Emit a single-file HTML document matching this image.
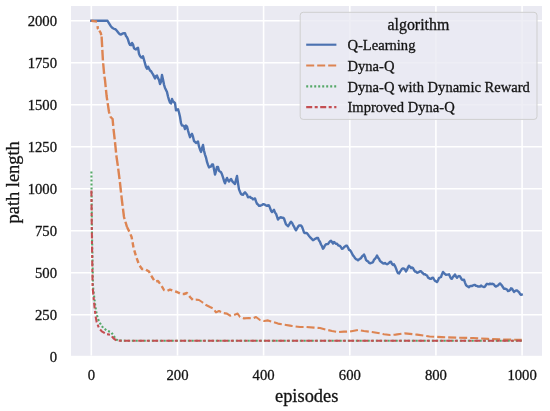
<!DOCTYPE html>
<html lang="en"><head><meta charset="utf-8"><title>path length vs episodes</title>
<style>
html,body{margin:0;padding:0;background:#ffffff;}
body{width:550px;height:411px;overflow:hidden;font-family:"Liberation Serif",serif;}
svg{display:block;}
</style></head><body>
<svg width="550" height="411" viewBox="0 0 550 411">
<rect x="0" y="0" width="550" height="411" fill="#ffffff"/>
<rect x="71.0" y="6.0" width="471.0" height="349.8" fill="#eaeaf2"/>
<defs><clipPath id="ax"><rect x="71.0" y="6.0" width="471.0" height="349.8"/></clipPath></defs>
<g clip-path="url(#ax)" stroke="#ffffff" stroke-width="1.6">
<line x1="91.3" y1="6.0" x2="91.3" y2="355.8"/>
<line x1="177.5" y1="6.0" x2="177.5" y2="355.8"/>
<line x1="263.6" y1="6.0" x2="263.6" y2="355.8"/>
<line x1="349.8" y1="6.0" x2="349.8" y2="355.8"/>
<line x1="435.9" y1="6.0" x2="435.9" y2="355.8"/>
<line x1="522.1" y1="6.0" x2="522.1" y2="355.8"/>
<line x1="71.0" y1="356.8" x2="542.0" y2="356.8"/>
<line x1="71.0" y1="314.8" x2="542.0" y2="314.8"/>
<line x1="71.0" y1="272.8" x2="542.0" y2="272.8"/>
<line x1="71.0" y1="230.8" x2="542.0" y2="230.8"/>
<line x1="71.0" y1="188.8" x2="542.0" y2="188.8"/>
<line x1="71.0" y1="146.8" x2="542.0" y2="146.8"/>
<line x1="71.0" y1="104.8" x2="542.0" y2="104.8"/>
<line x1="71.0" y1="62.8" x2="542.0" y2="62.8"/>
<line x1="71.0" y1="20.8" x2="542.0" y2="20.8"/>
</g>
<g clip-path="url(#ax)" fill="none" stroke-width="2.4" stroke-linejoin="round">
<polyline stroke="#4c72b0" stroke-linecap="square" points="91.3,20.8 107.5,20.8 110.0,24.8 111.0,26.5 112.0,27.5 113.0,28.3 114.0,28.8 115.0,29.1 116.0,29.8 117.0,31.0 118.0,32.3 119.0,33.6 120.0,34.3 121.0,34.6 122.0,33.9 123.0,33.4 124.0,33.2 125.0,33.2 126.0,36.1 127.0,37.3 128.0,39.6 129.0,42.9 130.0,44.9 131.0,45.2 132.0,42.9 133.0,44.4 134.0,48.2 135.0,48.9 136.0,49.5 137.0,48.4 138.0,47.8 139.0,53.7 140.0,56.1 141.0,57.3 142.0,57.7 143.0,56.2 144.0,59.8 145.0,63.4 146.0,66.9 147.0,68.8 148.0,66.7 149.0,68.5 150.0,70.6 151.0,71.1 152.0,72.9 153.0,74.4 154.0,76.4 155.0,78.4 156.0,76.1 157.0,75.6 158.0,78.2 159.0,79.9 160.0,84.0 161.0,81.7 162.0,74.9 163.0,79.4 164.0,84.6 165.0,88.0 166.0,89.9 167.0,92.0 168.0,96.5 169.0,99.9 170.0,102.6 171.0,103.4 172.0,99.0 173.0,101.5 174.0,102.1 175.0,103.1 176.0,110.4 177.0,109.8 178.0,109.2 179.0,112.5 180.0,116.7 181.0,123.1 182.0,125.6 183.0,125.6 184.0,126.0 185.0,129.0 186.0,125.6 187.0,126.6 188.0,130.5 189.0,134.0 190.0,137.2 191.0,135.0 192.0,133.8 193.0,136.7 194.0,141.0 195.0,141.9 196.0,142.9 197.0,142.2 198.0,141.4 199.0,146.4 200.0,149.5 201.0,151.9 202.0,148.2 203.0,145.0 204.0,150.8 205.0,154.6 206.0,157.6 207.0,161.9 208.0,164.9 209.0,167.4 210.0,166.8 211.0,166.6 212.0,164.4 213.0,164.4 214.0,169.2 215.0,174.6 216.0,171.1 217.0,166.9 218.0,167.0 219.0,170.7 220.0,171.4 221.0,172.2 222.0,174.3 223.0,177.3 224.0,180.7 225.0,183.3 226.0,180.1 227.0,177.9 228.0,180.2 229.0,181.6 230.0,180.1 231.0,178.9 232.0,180.8 233.0,182.2 234.0,183.1 235.0,184.0 236.0,179.8 237.0,176.0 238.0,183.2 239.0,189.4 240.0,191.8 241.0,194.0 242.0,194.6 243.0,194.7 244.0,193.3 245.0,192.3 246.0,193.5 247.0,194.7 248.0,197.2 249.0,197.1 250.0,196.8 251.0,197.9 252.0,198.1 253.0,199.4 254.0,199.0 255.0,198.4 256.0,201.4 257.0,203.8 258.0,204.5 259.0,205.9 260.0,205.8 261.0,205.4 262.0,205.0 263.0,204.3 264.0,204.3 265.0,204.8 266.0,205.5 267.0,205.9 268.0,205.3 269.0,205.4 270.0,207.9 271.0,210.7 272.0,212.1 273.0,210.8 274.0,209.8 275.0,212.5 276.0,213.7 277.0,216.7 278.0,219.5 279.0,218.2 280.0,217.6 281.0,217.2 282.0,217.8 283.0,217.7 284.0,218.5 285.0,221.5 286.0,224.3 287.0,225.2 288.0,226.3 289.0,224.8 290.0,223.1 291.0,221.8 292.0,222.8 293.0,224.8 294.0,226.6 295.0,228.8 296.0,230.3 297.0,228.5 298.0,226.8 299.0,225.4 300.0,225.5 301.0,225.4 302.0,226.8 303.0,229.4 304.0,232.5 305.0,233.1 306.0,232.9 307.0,233.2 308.0,234.5 309.0,235.9 310.0,237.1 311.0,238.1 312.0,239.1 313.0,240.2 314.0,239.7 315.0,238.8 316.0,238.5 317.0,237.9 318.0,238.0 319.0,240.6 320.0,241.8 321.0,244.5 322.0,246.2 323.0,248.7 324.0,247.4 325.0,245.3 326.0,244.3 327.0,244.1 328.0,244.0 329.0,242.6 330.0,241.4 331.0,240.8 332.0,242.1 333.0,243.5 334.0,241.9 335.0,242.9 336.0,243.7 337.0,243.8 338.0,245.1 339.0,245.7 340.0,246.0 341.0,247.3 342.0,248.8 343.0,248.4 344.0,247.2 345.0,246.4 346.0,245.7 347.0,245.8 348.0,247.5 349.0,249.8 350.0,250.2 351.0,251.5 352.0,253.5 353.0,255.4 354.0,256.5 355.0,258.2 356.0,259.1 357.0,259.5 358.0,260.3 359.0,259.4 360.0,258.7 361.0,258.1 362.0,256.5 363.0,255.6 364.0,254.5 365.0,256.7 366.0,259.9 367.0,260.9 368.0,261.3 369.0,262.7 370.0,263.3 371.0,263.0 372.0,262.6 373.0,262.1 374.0,259.7 375.0,258.9 376.0,257.3 377.0,255.6 378.0,257.6 379.0,258.7 380.0,260.9 381.0,261.8 382.0,262.5 383.0,263.4 384.0,263.6 385.0,262.9 386.0,263.8 387.0,264.3 388.0,263.7 389.0,262.9 390.0,262.0 391.0,261.8 392.0,263.9 393.0,265.0 394.0,264.3 395.0,266.0 396.0,268.4 397.0,271.2 398.0,273.1 399.0,273.5 400.0,271.9 401.0,270.4 402.0,268.8 403.0,268.4 404.0,268.7 405.0,269.5 406.0,271.4 407.0,269.9 408.0,267.3 409.0,265.7 410.0,266.8 411.0,268.1 412.0,267.5 413.0,268.1 414.0,270.0 415.0,271.5 416.0,271.6 417.0,272.7 418.0,272.5 419.0,271.9 420.0,271.2 421.0,271.2 422.0,272.5 423.0,273.3 424.0,274.3 425.0,274.3 426.0,275.0 427.0,275.5 428.0,277.6 429.0,278.1 430.0,278.7 431.0,278.9 432.0,277.9 433.0,277.7 434.0,279.4 435.0,280.9 436.0,281.3 437.0,282.1 438.0,280.4 439.0,278.0 440.0,277.5 441.0,277.0 442.0,274.2 443.0,271.9 444.0,273.1 445.0,274.0 446.0,274.8 447.0,274.6 448.0,274.6 449.0,274.3 450.0,276.6 451.0,278.5 452.0,278.8 453.0,276.8 454.0,276.0 455.0,274.4 456.0,276.6 457.0,277.8 458.0,276.5 459.0,276.0 460.0,276.4 461.0,278.3 462.0,279.7 463.0,280.0 464.0,279.7 465.0,282.6 466.0,285.1 467.0,286.0 468.0,286.6 469.0,287.3 470.0,286.1 471.0,285.9 472.0,286.1 473.0,285.4 474.0,285.0 475.0,284.9 476.0,285.9 477.0,285.9 478.0,286.6 479.0,286.5 480.0,286.6 481.0,285.6 482.0,286.3 483.0,286.7 484.0,287.0 485.0,286.7 486.0,284.9 487.0,283.8 488.0,284.1 489.0,284.3 490.0,283.6 491.0,284.1 492.0,283.8 493.0,283.9 494.0,284.6 495.0,286.0 496.0,286.6 497.0,285.9 498.0,285.5 499.0,284.3 500.0,283.4 501.0,284.5 502.0,285.6 503.0,287.3 504.0,288.7 505.0,288.8 506.0,289.0 507.0,289.5 508.0,291.0 509.0,290.9 510.0,290.1 511.0,288.3 512.0,288.6 513.0,290.4 514.0,291.9 515.0,291.1 516.0,290.5 517.0,290.4 518.0,291.3 519.0,292.2 520.0,293.9 521.0,294.9 521.7,294.6"/>
<polyline stroke="#dd8452" stroke-dasharray="5.8 4.6 3 2 5 1.6 20" points="91.3,20.8 97.1,21.6 97.8,28.3 100.7,32.8 101.6,36.5"/>
<polyline stroke="#dd8452" stroke-dasharray="10.6 2.8" points="101.6,36.5 102.9,60.2 104.2,74.8 105.0,80.0 106.6,96.0 109.0,112.0 110.6,117.0 112.6,119.0 113.4,128.0 115.0,142.0 116.4,156.0 118.0,167.0 120.0,183.0 122.0,201.0 124.0,217.0 127.0,227.0"/>
<polyline stroke="#dd8452" stroke-dasharray="5.2 3" points="127.0,227.0 129.5,232.0 131.6,237.0 133.6,248.0 136.6,258.0 139.2,265.0 142.0,269.0 145.0,269.0 149.0,271.6 152.0,277.0 155.0,281.6 158.0,281.0 161.0,285.0 164.0,290.0 167.0,291.0 170.0,289.6 174.0,291.0 177.0,292.0 181.0,294.0 184.0,294.0 187.0,293.0 190.0,297.0 193.0,300.0 196.0,299.6"/>
<polyline stroke="#dd8452" stroke-width="2.1" stroke-dasharray="8 3" points="196.0,299.6 199.0,300.0 202.0,302.0 206.0,305.0 210.0,307.0 213.0,308.4 216.0,312.4 219.0,311.0 223.0,313.0 227.0,313.6 230.0,315.6 234.0,315.0 237.6,313.6 240.0,317.0 244.0,318.4 249.0,318.0 253.0,318.4 256.0,317.0 260.0,320.0 264.0,321.0 268.0,320.4 273.0,322.0 278.0,323.6 284.0,324.6 290.0,325.6 292.0,326.0 300.0,327.0 306.0,327.0 314.0,327.6 320.0,328.0 326.0,329.6 332.0,331.0 338.0,332.0 344.0,331.6 350.0,331.6 358.0,330.0 364.0,331.0 372.0,332.0 378.0,333.0 384.0,334.2 390.0,335.0 395.5,334.6 404.7,333.4 417.0,334.6 429.5,336.5 441.8,337.1 457.0,337.7 472.7,338.0 488.0,338.9 503.6,339.5 517.6,339.8 521.7,339.9"/>
<polyline stroke="#55a868" stroke-width="2.1" stroke-dasharray="2 2" points="91.4,171.6 91.9,230.0 93.0,286.5 94.0,295.2 95.2,305.4 96.7,314.2 98.1,319.3 100.3,323.7 103.2,328.0 106.9,330.5 111.3,332.4 113.5,335.4 115.7,339.0 117.8,340.5 125.0,340.7 521.7,340.7"/>
<polyline stroke="#c44e52" stroke-width="2.1" stroke-dasharray="6 2.5 3 2.5" points="91.4,190.6 91.8,230.0 92.6,286.5 93.5,296.7 94.5,306.9 95.5,315.7 96.7,322.2 98.9,328.0 101.8,331.4 106.2,333.9 110.5,334.9 113.5,338.3 116.4,340.5 125.0,340.8 521.7,340.8"/>
</g>
<g font-family="'Liberation Serif', serif" font-size="14.7px" fill="#141414" stroke="#141414" stroke-width="0.3">
<text x="57" y="361.8" text-anchor="end">0</text>
<text x="57" y="319.8" text-anchor="end">250</text>
<text x="57" y="277.8" text-anchor="end">500</text>
<text x="57" y="235.8" text-anchor="end">750</text>
<text x="57" y="193.8" text-anchor="end">1000</text>
<text x="57" y="151.8" text-anchor="end">1250</text>
<text x="57" y="109.8" text-anchor="end">1500</text>
<text x="57" y="67.8" text-anchor="end">1750</text>
<text x="57" y="25.8" text-anchor="end">2000</text>
<text x="91.3" y="380.4" text-anchor="middle">0</text>
<text x="177.5" y="380.4" text-anchor="middle">200</text>
<text x="263.6" y="380.4" text-anchor="middle">400</text>
<text x="349.8" y="380.4" text-anchor="middle">600</text>
<text x="435.9" y="380.4" text-anchor="middle">800</text>
<text x="522.1" y="380.4" text-anchor="middle">1000</text>
</g>
<g font-family="'Liberation Serif', serif" font-size="18.4px" fill="#141414" stroke="#141414" stroke-width="0.3">
<text x="306.7" y="401.5" text-anchor="middle">episodes</text>
<text transform="translate(19 182.3) rotate(-90)" text-anchor="middle">path length</text>
</g>
<rect x="300.2" y="12.3" width="236.8" height="107.1" rx="3" ry="3" fill="#eaeaf2" fill-opacity="0.8" stroke="#cfcfcf" stroke-opacity="1" stroke-width="1"/>
<g font-family="'Liberation Serif', serif" fill="#141414" stroke="#141414" stroke-width="0.3">
<text x="418.4" y="30" font-size="15.9px" text-anchor="middle">algorithm</text>
<text x="347.5" y="50.0" font-size="14.57px">Q-Learning</text>
<text x="347.5" y="70.8" font-size="14.57px">Dyna-Q</text>
<text x="347.5" y="91.6" font-size="14.57px">Dyna-Q with Dynamic Reward</text>
<text x="347.5" y="112.4" font-size="14.57px">Improved Dyna-Q</text>
</g>
<g fill="none" stroke-width="2.15">
<line x1="306.2" y1="44.7" x2="336.4" y2="44.7" stroke="#4c72b0"/>
<line x1="306.2" y1="65.5" x2="336.4" y2="65.5" stroke="#dd8452" stroke-dasharray="8 3"/>
<line x1="306.2" y1="86.3" x2="336.4" y2="86.3" stroke="#55a868" stroke-dasharray="2 2"/>
<line x1="306.2" y1="107.1" x2="336.4" y2="107.1" stroke="#c44e52" stroke-dasharray="6 2.5 3 2.5"/>
</g>
</svg>
</body></html>
